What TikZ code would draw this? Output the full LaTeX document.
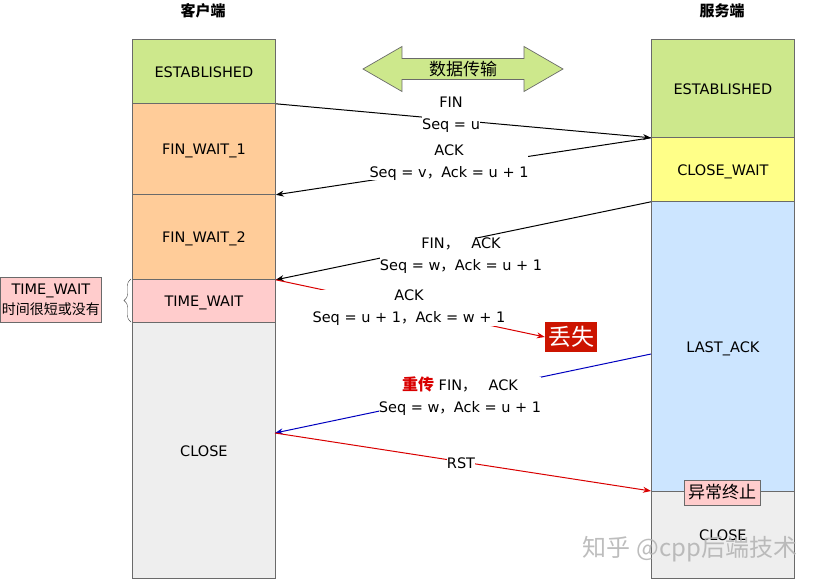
\documentclass[tikz,border=0pt]{standalone}
\usepackage{fontspec}
\setmainfont{DejaVu Sans}
\newfontfamily\cjk{Noto Sans CJK SC}
\usepackage{xcolor}
\usetikzlibrary{arrows.meta,shapes.arrows,decorations.pathreplacing}
\definecolor{estgreen}{HTML}{CDE88C}
\definecolor{finorange}{HTML}{FFCC99}
\definecolor{waityellow}{HTML}{FFFF88}
\definecolor{ackblue}{HTML}{CCE5FF}
\definecolor{timepink}{HTML}{FFCCCC}
\definecolor{closegray}{HTML}{EEEEEE}
\definecolor{edgegray}{HTML}{6A6A6A}
\definecolor{lostred}{HTML}{CC1400}
\newcommand{\zhcomma}{{\cjk ，}}
\tikzset{
    statebox/.style={draw=edgegray,line width=.8pt,anchor=north west,inner sep=0pt,minimum width=143pt,text height=12pt,text depth=0pt,font=\fontsize{14.5}{16}\selectfont},
    msglabel/.style={fill=white,align=center,inner sep=0pt,font=\fontsize{14.5}{22}\selectfont},
    notebox/.style={draw=edgegray,line width=.7pt,fill=timepink,align=center,inner sep=0pt},
    msgline/.style={-{Stealth[length=8pt,width=6pt]},line width=1pt}
}
\begin{document}
\begin{tikzpicture}[x=1pt,y=-1pt]
    \useasboundingbox (0,0) rectangle (820,586);
    % client column
    \node[font=\cjk\fontsize{15}{17}\selectfont\bfseries] (clienttitle) at (203,11) {客户端};
    \node[statebox,fill=estgreen,minimum height=64pt] (estc) at (132,39) {ESTABLISHED};
    \node[statebox,fill=finorange,minimum height=91pt] (finone) at (132,103) {FIN\_WAIT\_1};
    \node[statebox,fill=finorange,minimum height=85pt] (fintwo) at (132,194) {FIN\_WAIT\_2};
    \node[statebox,fill=timepink,minimum height=43pt] (timewait) at (132,279) {TIME\_WAIT};
    \node[statebox,fill=closegray,minimum height=256pt] (closec) at (132,322) {CLOSE};
    % server column
    \node[font=\cjk\fontsize{15}{17}\selectfont\bfseries] (servertitle) at (722,11) {服务端};
    \node[statebox,fill=estgreen,minimum height=98pt] (ests) at (651,39) {ESTABLISHED};
    \node[statebox,fill=waityellow,minimum height=64pt] (closewait) at (651,137) {CLOSE\_WAIT};
    \node[statebox,fill=ackblue,minimum height=290pt] (lastack) at (651,201) {LAST\_ACK};
    \node[statebox,fill=closegray,minimum height=87pt] (closes) at (651,491) {CLOSE};
    % data transfer
    \node[double arrow,draw=edgegray,line width=.7pt,fill=estgreen,inner sep=0pt,minimum height=200pt,minimum width=45pt,double arrow head extend=9.5pt,double arrow tip angle=60,font=\cjk\fontsize{17}{19}\selectfont] (transfer) at (463,69) {数据传输};
    % time wait note
    \node[notebox,anchor=north west,minimum width=101pt,minimum height=45pt,font=\fontsize{14.5}{20}\selectfont] (timenote) at (0,277) {TIME\_WAIT\\{\cjk\fontsize{14}{15}\selectfont 时间很短或没有}};
    \coordinate (bracetop) at (131,279);
    \coordinate (bracebot) at (131,322);
    \draw[black!70,decorate,decoration={brace,amplitude=7pt}] (bracebot) -- (bracetop);
    % lost and abort marks
    \node[fill=lostred,text=white,minimum width=52pt,minimum height=30pt,inner sep=0pt,font=\cjk\fontsize{23}{25}\selectfont] (lost) at (571,337) {丢失};
    \coordinate (rexmit) at (651,354);
    \coordinate (rstpoint) at (275,433);
    % messages
    \draw[msgline] (estc.south east) -- (ests.south west);
    \draw[msgline] (ests.south west) -- (finone.south east);
    \draw[msgline] (closewait.south west) -- (fintwo.south east);
    \draw[msgline,red!85!black] (fintwo.south east) -- (lost.west);
    \draw[msgline,blue!75!black] (rexmit) -- (rstpoint);
    \draw[msgline,red!85!black] (rstpoint) -- (closes.north west);
    \node[msglabel] (finlabel) at (451,115) {FIN\\Seq = u};
    \node[msglabel] (acklabel) at (449,162.5) {ACK\\Seq = v\zhcomma Ack = u + 1};
    \node[msglabel] (finacklabel) at (461,256) {FIN\zhcomma\hspace{12pt}ACK\\Seq = w\zhcomma Ack = u + 1};
    \node[msglabel] (lostlabel) at (409,308) {ACK\\Seq = u + 1\zhcomma Ack = w + 1};
    \node[msglabel] (retxlabel) at (460,396) {{\cjk\bfseries\fontsize{16}{22}\selectfont\color{red!85!black}重传} FIN\zhcomma\hspace{12pt}ACK\\Seq = w\zhcomma Ack = u + 1};
    \node[msglabel,font=\fontsize{14.5}{17}\selectfont] (rstlabel) at (461,463) {RST};
    \node[notebox,minimum width=76pt,minimum height=25pt,font=\cjk\fontsize{17}{19}\selectfont] (abort) at (722,492.5) {异常终止};
    % watermark
    \node[text=gray!60,opacity=.85,font=\cjk\fontsize{24}{26}\selectfont] (mark) at (690,549) {知乎 @cpp后端技术};
\end{tikzpicture}
\end{document}
